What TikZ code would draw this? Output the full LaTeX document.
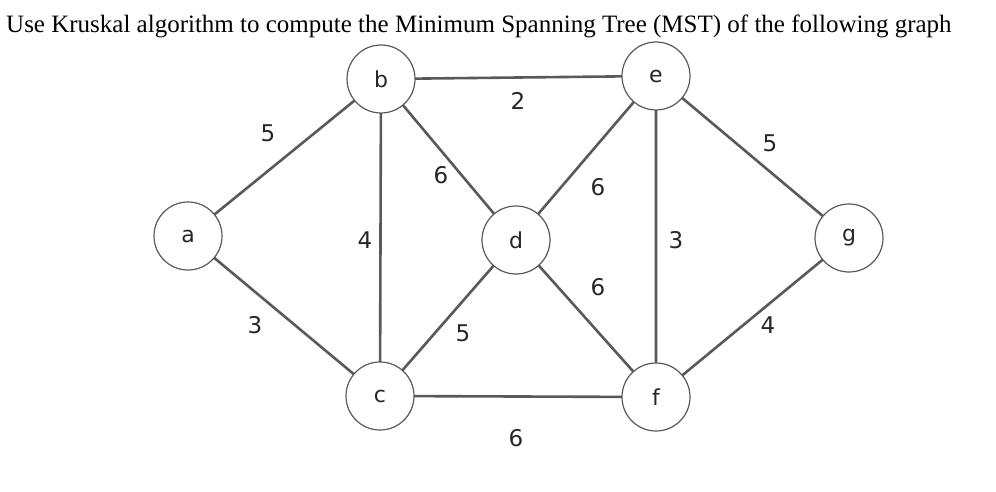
\documentclass[tikz,border=0pt]{standalone}
\usepackage{fontspec}
\setmainfont{Liberation Serif}
\newfontfamily\lbl{DejaVu Sans}
\begin{document}
\begin{tikzpicture}[x=1pt,y=-1pt,
  vtx/.style={circle,draw=black!65,line width=1.2pt,fill=white,minimum size=68pt,inner sep=0pt,font=\lbl\fontsize{22}{22}\selectfont,text=black!85},
  edge/.style={draw=black!65,line width=2.6pt},
  wt/.style={font=\lbl\fontsize{23}{23}\selectfont,text=black!85}]
\useasboundingbox (0,0) rectangle (996,492);
\node[anchor=base west,font=\fontsize{25}{25}\selectfont,inner sep=0pt] (title) at (6,33) {Use Kruskal algorithm to compute the Minimum Spanning Tree (MST) of the following graph};
\coordinate (A) at (188,236);
\coordinate (B) at (381,79);
\coordinate (E) at (656,76);
\coordinate (D) at (516,240);
\coordinate (G) at (849,238);
\coordinate (C) at (380,396);
\coordinate (F) at (656,397);
\draw[edge] (A)--(B) (A)--(C) (B)--(E) (B)--(C) (B)--(D) (E)--(D) (E)--(F) (E)--(G) (D)--(C) (D)--(F) (C)--(F) (F)--(G);
\node[vtx] (a) at (A) {a};
\node[vtx] (b) at (B) {b};
\node[vtx] (e) at (E) {e};
\node[vtx] (d) at (D) {d};
\node[vtx] (g) at (G) {g};
\node[vtx] (c) at (C) {c};
\node[vtx] (f) at (F) {f};
\node[wt] (w1) at (268,133) {5};
\node[wt] (w2) at (518,101) {2};
\node[wt] (w3) at (770,143) {5};
\node[wt] (w4) at (441,175) {6};
\node[wt] (w5) at (598,187) {6};
\node[wt] (w6) at (365,240) {4};
\node[wt] (w7) at (676,240) {3};
\node[wt] (w8) at (598,287) {6};
\node[wt] (w9) at (255,325) {3};
\node[wt] (w10) at (463,333) {5};
\node[wt] (w11) at (768,325) {4};
\node[wt] (w12) at (516,438) {6};
\end{tikzpicture}
\end{document}
